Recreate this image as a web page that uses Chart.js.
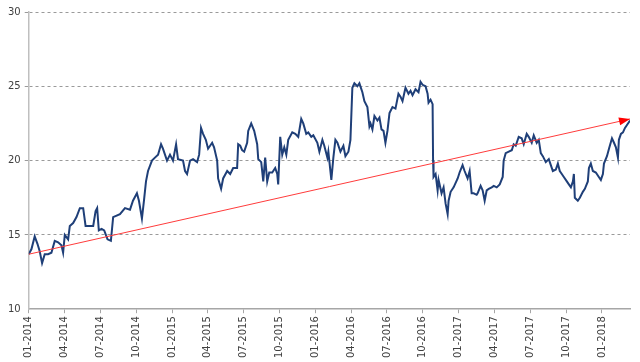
<!DOCTYPE html>
<html>
<head>
<meta charset="utf-8">
<script src="https://cdn.jsdelivr.net/npm/chart.js@4/dist/chart.umd.min.js"></script>
<style>
  html, body { margin: 0; padding: 0; background: #fff; }
  #wrap { width: 640px; height: 362px; }
</style>
</head>
<body>
<div id="wrap"><canvas id="chart"></canvas></div>
<script>
// months since 01-2014 and the value
const months = [
  0, 0.23, 0.5, 0.73, 0.92, 1.12, 1.34, 1.62, 1.9, 2.18, 2.46, 2.74, 2.88, 3.02, 3.3, 3.44, 3.72, 4.0, 4.28, 4.56,
  4.76, 5.12, 5.4, 5.6, 5.73, 5.87, 6.1, 6.32, 6.6, 6.88, 7.07, 7.64, 8.06, 8.48, 8.73, 9.06, 9.23, 9.48, 9.65, 9.82,
  9.99, 10.32, 10.57, 10.83, 11.08, 11.24, 11.58, 11.83, 12.08, 12.34, 12.5, 12.92, 13.09, 13.26, 13.51, 13.76, 14.1, 14.27, 14.43, 14.6,
  14.83, 15.02, 15.36, 15.52, 15.78, 15.86, 16.11, 16.28, 16.62, 16.87, 17.12, 17.45, 17.54, 17.71, 17.87, 18.04, 18.29, 18.38, 18.63, 18.88,
  19.13, 19.22, 19.47, 19.64, 19.8, 19.97, 20.14, 20.39, 20.64, 20.81, 20.89, 21.06, 21.23, 21.4, 21.57, 21.73, 22.07, 22.32, 22.57, 22.82,
  22.99, 23.24, 23.41, 23.66, 23.83, 24.17, 24.34, 24.59, 24.75, 25.01, 25.09, 25.34, 25.51, 25.68, 25.85, 26.1, 26.35, 26.52, 26.77, 26.94,
  27.1, 27.27, 27.52, 27.69, 27.94, 28.11, 28.36, 28.53, 28.62, 28.78, 28.95, 29.2, 29.37, 29.54, 29.71, 29.87, 30.04, 30.21, 30.46, 30.71,
  30.96, 31.13, 31.3, 31.55, 31.8, 31.97, 32.14, 32.39, 32.64, 32.81, 32.98, 33.23, 33.4, 33.48, 33.65, 33.82, 33.86, 33.9, 34.07, 34.24,
  34.32, 34.57, 34.74, 34.91, 35.08, 35.16, 35.33, 35.58, 35.92, 36.08, 36.33, 36.5, 36.75, 36.92, 37.09, 37.26, 37.51, 37.59, 37.84, 38.01,
  38.18, 38.35, 38.52, 38.77, 38.94, 39.19, 39.44, 39.69, 39.77, 39.94, 40.2, 40.45, 40.61, 40.78, 41.03, 41.28, 41.45, 41.7, 41.87, 42.12,
  42.29, 42.54, 42.71, 42.88, 43.05, 43.3, 43.55, 43.72, 43.89, 44.14, 44.31, 44.47, 44.64, 44.81, 45.06, 45.23, 45.4, 45.57, 45.65, 45.73,
  45.98, 46.15, 46.4, 46.57, 46.82, 46.91, 47.07, 47.24, 47.49, 47.74, 47.91, 48.08, 48.17, 48.42, 48.59, 48.84, 49.01, 49.17, 49.34, 49.42,
  49.59, 49.76, 49.93, 50.18, 50.35
];
const values = [
  13.7, 14.05, 14.9, 14.4, 13.9, 13.1, 13.7, 13.7, 13.8, 14.6, 14.5, 14.3, 13.8, 15.0, 14.7, 15.6, 15.8, 16.2, 16.8, 16.8,
  15.6, 15.6, 15.6, 16.6, 16.8, 15.3, 15.4, 15.3, 14.7, 14.6, 16.2, 16.4, 16.8, 16.7, 17.3, 17.8, 17.3, 16.1, 17.3, 18.6,
  19.3, 20.0, 20.2, 20.4, 21.1, 20.8, 20.0, 20.4, 20.0, 21.1, 20.1, 20.0, 19.3, 19.1, 20.0, 20.1, 19.9, 20.4, 22.2, 21.8,
  21.4, 20.8, 21.2, 20.9, 20.0, 18.8, 18.1, 18.8, 19.3, 19.1, 19.5, 19.5, 21.1, 21.0, 20.7, 20.6, 21.2, 22.0, 22.5, 22.0,
  21.1, 20.1, 19.9, 18.6, 20.2, 18.6, 19.2, 19.2, 19.5, 19.1, 18.4, 21.6, 20.4, 20.9, 20.4, 21.4, 21.9, 21.8, 21.6, 22.8,
  22.5, 21.8, 21.9, 21.6, 21.7, 21.2, 20.6, 21.4, 21.0, 20.2, 20.6, 18.7, 20.2, 21.4, 21.2, 20.6, 21.0, 20.3, 20.6, 21.4,
  24.9, 25.2, 25.0, 25.2, 24.6, 24.0, 23.6, 22.3, 22.5, 22.1, 23.0, 22.7, 22.9, 22.1, 22.0, 21.2, 22.0, 23.2, 23.6, 23.5,
  24.5, 24.3, 24.0, 24.9, 24.5, 24.7, 24.4, 24.8, 24.6, 25.3, 25.1, 25.0, 24.5, 23.9, 24.1, 23.8, 20.0, 18.9, 19.1, 18.0,
  18.7, 17.8, 18.2, 17.1, 16.4, 17.3, 17.9, 18.2, 18.8, 19.2, 19.7, 19.3, 18.8, 19.3, 17.8, 17.8, 17.7, 17.8, 18.3, 18.0,
  17.3, 18.0, 18.1, 18.2, 18.3, 18.2, 18.4, 18.9, 20.0, 20.5, 20.6, 20.7, 21.1, 21.0, 21.6, 21.5, 21.1, 21.8, 21.6, 21.2,
  21.7, 21.2, 21.4, 20.5, 20.3, 19.9, 20.1, 19.7, 19.3, 19.4, 19.8, 19.3, 19.1, 18.9, 18.6, 18.4, 18.2, 18.6, 19.1, 17.5,
  17.3, 17.5, 17.9, 18.1, 18.6, 19.5, 19.8, 19.3, 19.2, 18.9, 18.7, 19.1, 19.8, 20.3, 20.8, 21.5, 21.2, 20.9, 20.2, 21.4,
  21.8, 21.9, 22.2, 22.5, 22.7
];

// trend arrow, start and end
const trendMonths = [0, 50.35];
const trendValues = [13.7, 22.8];

// one label every 3 months
const tickLabels = [
  '01-2014', '04-2014', '07-2014', '10-2014', '01-2015', '04-2015', '07-2015', '10-2015', '01-2016',
  '04-2016', '07-2016', '10-2016', '01-2017', '04-2017', '07-2017', '10-2017', '01-2018'
];

const seriesPoints = months.map((m, i) => ({ x: m, y: values[i] }));
const trendPoints = trendMonths.map((m, i) => ({ x: m, y: trendValues[i] }));

// draws the arrow head at the end of the red line
const arrowHead = {
  id: 'arrowHead',
  afterDatasetsDraw(chart) {
    const pts = chart.getDatasetMeta(0).data;
    const a = pts[pts.length - 2], b = pts[pts.length - 1];
    const ang = Math.atan2(b.y - a.y, b.x - a.x);
    const len = 11, half = 4;
    const ctx = chart.ctx;
    ctx.save();
    ctx.translate(b.x, b.y);
    ctx.rotate(ang);
    ctx.beginPath();
    ctx.moveTo(0, 0);
    ctx.lineTo(-len, -half);
    ctx.lineTo(-len, half);
    ctx.closePath();
    ctx.fillStyle = '#ff0000';
    ctx.fill();
    ctx.restore();
  }
};

Chart.defaults.font.family = '"DejaVu Sans", Verdana, sans-serif';
Chart.defaults.font.size = 10;
Chart.defaults.color = '#404040';

new Chart(document.getElementById('chart'), {
  type: 'line',
  data: {
    datasets: [{
      data: trendPoints,
      borderColor: '#ff3b3b',
      borderWidth: 1,
      pointRadius: 0,
      tension: 0
    }, {
      data: seriesPoints,
      borderColor: '#1f3f78',
      borderWidth: 2,
      pointRadius: 0,
      tension: 0
    }]
  },
  options: {
    responsive: true,
    maintainAspectRatio: false,
    animation: false,
    layout: { padding: { left: 4, right: 10, top: 12, bottom: 1 } },
    plugins: { legend: { display: false }, tooltip: { enabled: false } },
    scales: {
      x: {
        type: 'linear',
        min: 0,
        max: 50.35,
        grid: { drawOnChartArea: false, color: '#a6a6a6', tickLength: 4 },
        border: { color: '#a6a6a6', width: 1.5 },
        ticks: {
          stepSize: 3,
          autoSkip: false,
          maxRotation: 90,
          minRotation: 90,
          padding: 3,
          callback: (v) => tickLabels[Math.round(v / 3)] || ''
        },
        afterBuildTicks: (axis) => {
          axis.ticks = tickLabels.map((_, i) => ({ value: i * 3 }));
        }
      },
      y: {
        min: 10,
        max: 30,
        grid: {
          color: (c) => (c.tick && c.tick.value === 10 ? 'rgba(0,0,0,0)' : '#9a9a9a'),
          tickLength: 4
        },
        border: { color: '#bfbfbf', width: 1.5, dash: [3, 3] },
        ticks: { stepSize: 5, padding: 4 }
      }
    }
  },
  plugins: [arrowHead]
});
</script>
</body>
</html>
